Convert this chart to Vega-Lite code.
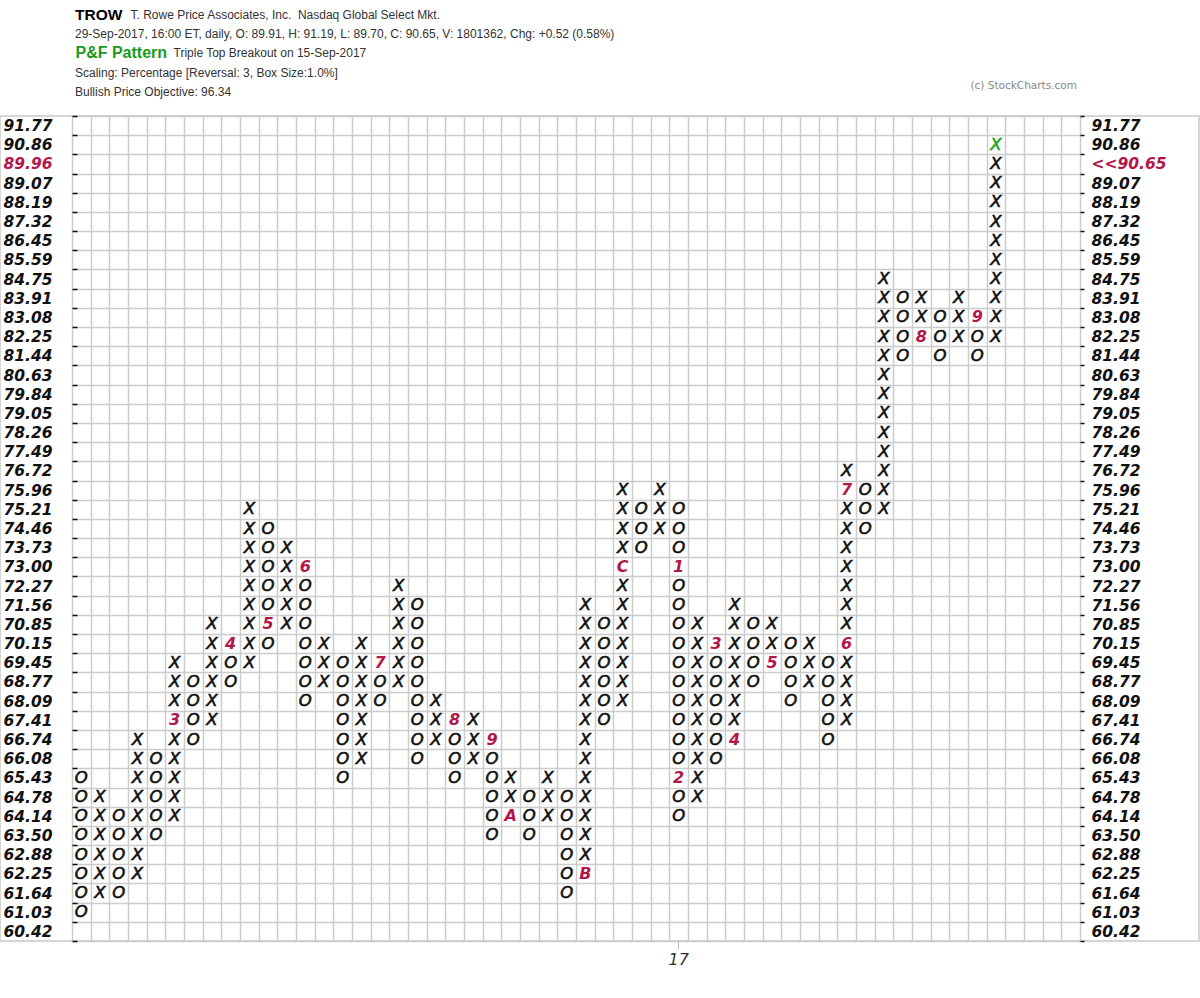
{
  "$schema": "https://vega.github.io/schema/vega-lite/v6.json",
  "width": 1199,
  "height": 825,
  "autosize": {"type": "none"},
  "padding": {"left": 0, "top": 116, "right": 1, "bottom": 57},
  "background": "white",
  "config": {"view": {"stroke": "#c8c8c8", "strokeWidth": 1.5}},
  "title": {
    "text": "TROW",
    "subtitle": ["29-Sep-2017, 16:00 ET, daily, O: 89.91, H: 91.19, L: 89.70, C: 90.65, V: 1801362, Chg: +0.52 (0.58%)", "\u200b", "Scaling: Percentage [Reversal: 3, Box Size:1.0%]", "Bullish Price Objective: 96.34"],
    "anchor": "start", "frame": "group", "dx": 75, "dy": 90, "offset": 0,
    "font": "Liberation Sans", "fontSize": 15.5, "fontWeight": "bold", "color": "#000",
    "subtitleFont": "Liberation Sans", "subtitleFontSize": 12, "subtitleColor": "#333",
    "subtitleLineHeight": 19.4, "subtitlePadding": 5
  },
  "data": {"values": [
    {"c":0,"p":65.43,"s":"O","t":"b"},{"c":0,"p":64.78,"s":"O","t":"b"},{"c":0,"p":64.14,"s":"O","t":"b"},{"c":0,"p":63.50,"s":"O","t":"b"},{"c":0,"p":62.88,"s":"O","t":"b"},{"c":0,"p":62.25,"s":"O","t":"b"},{"c":0,"p":61.64,"s":"O","t":"b"},{"c":0,"p":61.03,"s":"O","t":"b"},
    {"c":1,"p":64.78,"s":"X","t":"b"},{"c":1,"p":64.14,"s":"X","t":"b"},{"c":1,"p":63.50,"s":"X","t":"b"},{"c":1,"p":62.88,"s":"X","t":"b"},{"c":1,"p":62.25,"s":"X","t":"b"},{"c":1,"p":61.64,"s":"X","t":"b"},
    {"c":2,"p":64.14,"s":"O","t":"b"},{"c":2,"p":63.50,"s":"O","t":"b"},{"c":2,"p":62.88,"s":"O","t":"b"},{"c":2,"p":62.25,"s":"O","t":"b"},{"c":2,"p":61.64,"s":"O","t":"b"},
    {"c":3,"p":66.74,"s":"X","t":"b"},{"c":3,"p":66.08,"s":"X","t":"b"},{"c":3,"p":65.43,"s":"X","t":"b"},{"c":3,"p":64.78,"s":"X","t":"b"},{"c":3,"p":64.14,"s":"X","t":"b"},{"c":3,"p":63.50,"s":"X","t":"b"},{"c":3,"p":62.88,"s":"X","t":"b"},{"c":3,"p":62.25,"s":"X","t":"b"},
    {"c":4,"p":66.08,"s":"O","t":"b"},{"c":4,"p":65.43,"s":"O","t":"b"},{"c":4,"p":64.78,"s":"O","t":"b"},{"c":4,"p":64.14,"s":"O","t":"b"},{"c":4,"p":63.50,"s":"O","t":"b"},
    {"c":5,"p":69.45,"s":"X","t":"b"},{"c":5,"p":68.77,"s":"X","t":"b"},{"c":5,"p":68.09,"s":"X","t":"b"},{"c":5,"p":67.41,"s":"3","t":"m"},{"c":5,"p":66.74,"s":"X","t":"b"},{"c":5,"p":66.08,"s":"X","t":"b"},{"c":5,"p":65.43,"s":"X","t":"b"},{"c":5,"p":64.78,"s":"X","t":"b"},{"c":5,"p":64.14,"s":"X","t":"b"},
    {"c":6,"p":68.77,"s":"O","t":"b"},{"c":6,"p":68.09,"s":"O","t":"b"},{"c":6,"p":67.41,"s":"O","t":"b"},{"c":6,"p":66.74,"s":"O","t":"b"},
    {"c":7,"p":70.85,"s":"X","t":"b"},{"c":7,"p":70.15,"s":"X","t":"b"},{"c":7,"p":69.45,"s":"X","t":"b"},{"c":7,"p":68.77,"s":"X","t":"b"},{"c":7,"p":68.09,"s":"X","t":"b"},{"c":7,"p":67.41,"s":"X","t":"b"},
    {"c":8,"p":70.15,"s":"4","t":"m"},{"c":8,"p":69.45,"s":"O","t":"b"},{"c":8,"p":68.77,"s":"O","t":"b"},
    {"c":9,"p":75.21,"s":"X","t":"b"},{"c":9,"p":74.46,"s":"X","t":"b"},{"c":9,"p":73.73,"s":"X","t":"b"},{"c":9,"p":73.00,"s":"X","t":"b"},{"c":9,"p":72.27,"s":"X","t":"b"},{"c":9,"p":71.56,"s":"X","t":"b"},{"c":9,"p":70.85,"s":"X","t":"b"},{"c":9,"p":70.15,"s":"X","t":"b"},{"c":9,"p":69.45,"s":"X","t":"b"},
    {"c":10,"p":74.46,"s":"O","t":"b"},{"c":10,"p":73.73,"s":"O","t":"b"},{"c":10,"p":73.00,"s":"O","t":"b"},{"c":10,"p":72.27,"s":"O","t":"b"},{"c":10,"p":71.56,"s":"O","t":"b"},{"c":10,"p":70.85,"s":"5","t":"m"},{"c":10,"p":70.15,"s":"O","t":"b"},
    {"c":11,"p":73.73,"s":"X","t":"b"},{"c":11,"p":73.00,"s":"X","t":"b"},{"c":11,"p":72.27,"s":"X","t":"b"},{"c":11,"p":71.56,"s":"X","t":"b"},{"c":11,"p":70.85,"s":"X","t":"b"},
    {"c":12,"p":73.00,"s":"6","t":"m"},{"c":12,"p":72.27,"s":"O","t":"b"},{"c":12,"p":71.56,"s":"O","t":"b"},{"c":12,"p":70.85,"s":"O","t":"b"},{"c":12,"p":70.15,"s":"O","t":"b"},{"c":12,"p":69.45,"s":"O","t":"b"},{"c":12,"p":68.77,"s":"O","t":"b"},{"c":12,"p":68.09,"s":"O","t":"b"},
    {"c":13,"p":70.15,"s":"X","t":"b"},{"c":13,"p":69.45,"s":"X","t":"b"},{"c":13,"p":68.77,"s":"X","t":"b"},
    {"c":14,"p":69.45,"s":"O","t":"b"},{"c":14,"p":68.77,"s":"O","t":"b"},{"c":14,"p":68.09,"s":"O","t":"b"},{"c":14,"p":67.41,"s":"O","t":"b"},{"c":14,"p":66.74,"s":"O","t":"b"},{"c":14,"p":66.08,"s":"O","t":"b"},{"c":14,"p":65.43,"s":"O","t":"b"},
    {"c":15,"p":70.15,"s":"X","t":"b"},{"c":15,"p":69.45,"s":"X","t":"b"},{"c":15,"p":68.77,"s":"X","t":"b"},{"c":15,"p":68.09,"s":"X","t":"b"},{"c":15,"p":67.41,"s":"X","t":"b"},{"c":15,"p":66.74,"s":"X","t":"b"},{"c":15,"p":66.08,"s":"X","t":"b"},
    {"c":16,"p":69.45,"s":"7","t":"m"},{"c":16,"p":68.77,"s":"O","t":"b"},{"c":16,"p":68.09,"s":"O","t":"b"},
    {"c":17,"p":72.27,"s":"X","t":"b"},{"c":17,"p":71.56,"s":"X","t":"b"},{"c":17,"p":70.85,"s":"X","t":"b"},{"c":17,"p":70.15,"s":"X","t":"b"},{"c":17,"p":69.45,"s":"X","t":"b"},{"c":17,"p":68.77,"s":"X","t":"b"},
    {"c":18,"p":71.56,"s":"O","t":"b"},{"c":18,"p":70.85,"s":"O","t":"b"},{"c":18,"p":70.15,"s":"O","t":"b"},{"c":18,"p":69.45,"s":"O","t":"b"},{"c":18,"p":68.77,"s":"O","t":"b"},{"c":18,"p":68.09,"s":"O","t":"b"},{"c":18,"p":67.41,"s":"O","t":"b"},{"c":18,"p":66.74,"s":"O","t":"b"},{"c":18,"p":66.08,"s":"O","t":"b"},
    {"c":19,"p":68.09,"s":"X","t":"b"},{"c":19,"p":67.41,"s":"X","t":"b"},{"c":19,"p":66.74,"s":"X","t":"b"},
    {"c":20,"p":67.41,"s":"8","t":"m"},{"c":20,"p":66.74,"s":"O","t":"b"},{"c":20,"p":66.08,"s":"O","t":"b"},{"c":20,"p":65.43,"s":"O","t":"b"},
    {"c":21,"p":67.41,"s":"X","t":"b"},{"c":21,"p":66.74,"s":"X","t":"b"},{"c":21,"p":66.08,"s":"X","t":"b"},
    {"c":22,"p":66.74,"s":"9","t":"m"},{"c":22,"p":66.08,"s":"O","t":"b"},{"c":22,"p":65.43,"s":"O","t":"b"},{"c":22,"p":64.78,"s":"O","t":"b"},{"c":22,"p":64.14,"s":"O","t":"b"},{"c":22,"p":63.50,"s":"O","t":"b"},
    {"c":23,"p":65.43,"s":"X","t":"b"},{"c":23,"p":64.78,"s":"X","t":"b"},{"c":23,"p":64.14,"s":"A","t":"m"},
    {"c":24,"p":64.78,"s":"O","t":"b"},{"c":24,"p":64.14,"s":"O","t":"b"},{"c":24,"p":63.50,"s":"O","t":"b"},
    {"c":25,"p":65.43,"s":"X","t":"b"},{"c":25,"p":64.78,"s":"X","t":"b"},{"c":25,"p":64.14,"s":"X","t":"b"},
    {"c":26,"p":64.78,"s":"O","t":"b"},{"c":26,"p":64.14,"s":"O","t":"b"},{"c":26,"p":63.50,"s":"O","t":"b"},{"c":26,"p":62.88,"s":"O","t":"b"},{"c":26,"p":62.25,"s":"O","t":"b"},{"c":26,"p":61.64,"s":"O","t":"b"},
    {"c":27,"p":71.56,"s":"X","t":"b"},{"c":27,"p":70.85,"s":"X","t":"b"},{"c":27,"p":70.15,"s":"X","t":"b"},{"c":27,"p":69.45,"s":"X","t":"b"},{"c":27,"p":68.77,"s":"X","t":"b"},{"c":27,"p":68.09,"s":"X","t":"b"},{"c":27,"p":67.41,"s":"X","t":"b"},{"c":27,"p":66.74,"s":"X","t":"b"},{"c":27,"p":66.08,"s":"X","t":"b"},{"c":27,"p":65.43,"s":"X","t":"b"},{"c":27,"p":64.78,"s":"X","t":"b"},{"c":27,"p":64.14,"s":"X","t":"b"},{"c":27,"p":63.50,"s":"X","t":"b"},{"c":27,"p":62.88,"s":"X","t":"b"},{"c":27,"p":62.25,"s":"B","t":"m"},
    {"c":28,"p":70.85,"s":"O","t":"b"},{"c":28,"p":70.15,"s":"O","t":"b"},{"c":28,"p":69.45,"s":"O","t":"b"},{"c":28,"p":68.77,"s":"O","t":"b"},{"c":28,"p":68.09,"s":"O","t":"b"},{"c":28,"p":67.41,"s":"O","t":"b"},
    {"c":29,"p":75.96,"s":"X","t":"b"},{"c":29,"p":75.21,"s":"X","t":"b"},{"c":29,"p":74.46,"s":"X","t":"b"},{"c":29,"p":73.73,"s":"X","t":"b"},{"c":29,"p":73.00,"s":"C","t":"m"},{"c":29,"p":72.27,"s":"X","t":"b"},{"c":29,"p":71.56,"s":"X","t":"b"},{"c":29,"p":70.85,"s":"X","t":"b"},{"c":29,"p":70.15,"s":"X","t":"b"},{"c":29,"p":69.45,"s":"X","t":"b"},{"c":29,"p":68.77,"s":"X","t":"b"},{"c":29,"p":68.09,"s":"X","t":"b"},
    {"c":30,"p":75.21,"s":"O","t":"b"},{"c":30,"p":74.46,"s":"O","t":"b"},{"c":30,"p":73.73,"s":"O","t":"b"},
    {"c":31,"p":75.96,"s":"X","t":"b"},{"c":31,"p":75.21,"s":"X","t":"b"},{"c":31,"p":74.46,"s":"X","t":"b"},
    {"c":32,"p":75.21,"s":"O","t":"b"},{"c":32,"p":74.46,"s":"O","t":"b"},{"c":32,"p":73.73,"s":"O","t":"b"},{"c":32,"p":73.00,"s":"1","t":"m"},{"c":32,"p":72.27,"s":"O","t":"b"},{"c":32,"p":71.56,"s":"O","t":"b"},{"c":32,"p":70.85,"s":"O","t":"b"},{"c":32,"p":70.15,"s":"O","t":"b"},{"c":32,"p":69.45,"s":"O","t":"b"},{"c":32,"p":68.77,"s":"O","t":"b"},{"c":32,"p":68.09,"s":"O","t":"b"},{"c":32,"p":67.41,"s":"O","t":"b"},{"c":32,"p":66.74,"s":"O","t":"b"},{"c":32,"p":66.08,"s":"O","t":"b"},{"c":32,"p":65.43,"s":"2","t":"m"},{"c":32,"p":64.78,"s":"O","t":"b"},{"c":32,"p":64.14,"s":"O","t":"b"},
    {"c":33,"p":70.85,"s":"X","t":"b"},{"c":33,"p":70.15,"s":"X","t":"b"},{"c":33,"p":69.45,"s":"X","t":"b"},{"c":33,"p":68.77,"s":"X","t":"b"},{"c":33,"p":68.09,"s":"X","t":"b"},{"c":33,"p":67.41,"s":"X","t":"b"},{"c":33,"p":66.74,"s":"X","t":"b"},{"c":33,"p":66.08,"s":"X","t":"b"},{"c":33,"p":65.43,"s":"X","t":"b"},{"c":33,"p":64.78,"s":"X","t":"b"},
    {"c":34,"p":70.15,"s":"3","t":"m"},{"c":34,"p":69.45,"s":"O","t":"b"},{"c":34,"p":68.77,"s":"O","t":"b"},{"c":34,"p":68.09,"s":"O","t":"b"},{"c":34,"p":67.41,"s":"O","t":"b"},{"c":34,"p":66.74,"s":"O","t":"b"},{"c":34,"p":66.08,"s":"O","t":"b"},
    {"c":35,"p":71.56,"s":"X","t":"b"},{"c":35,"p":70.85,"s":"X","t":"b"},{"c":35,"p":70.15,"s":"X","t":"b"},{"c":35,"p":69.45,"s":"X","t":"b"},{"c":35,"p":68.77,"s":"X","t":"b"},{"c":35,"p":68.09,"s":"X","t":"b"},{"c":35,"p":67.41,"s":"X","t":"b"},{"c":35,"p":66.74,"s":"4","t":"m"},
    {"c":36,"p":70.85,"s":"O","t":"b"},{"c":36,"p":70.15,"s":"O","t":"b"},{"c":36,"p":69.45,"s":"O","t":"b"},{"c":36,"p":68.77,"s":"O","t":"b"},
    {"c":37,"p":70.85,"s":"X","t":"b"},{"c":37,"p":70.15,"s":"X","t":"b"},{"c":37,"p":69.45,"s":"5","t":"m"},
    {"c":38,"p":70.15,"s":"O","t":"b"},{"c":38,"p":69.45,"s":"O","t":"b"},{"c":38,"p":68.77,"s":"O","t":"b"},{"c":38,"p":68.09,"s":"O","t":"b"},
    {"c":39,"p":70.15,"s":"X","t":"b"},{"c":39,"p":69.45,"s":"X","t":"b"},{"c":39,"p":68.77,"s":"X","t":"b"},
    {"c":40,"p":69.45,"s":"O","t":"b"},{"c":40,"p":68.77,"s":"O","t":"b"},{"c":40,"p":68.09,"s":"O","t":"b"},{"c":40,"p":67.41,"s":"O","t":"b"},{"c":40,"p":66.74,"s":"O","t":"b"},
    {"c":41,"p":76.72,"s":"X","t":"b"},{"c":41,"p":75.96,"s":"7","t":"m"},{"c":41,"p":75.21,"s":"X","t":"b"},{"c":41,"p":74.46,"s":"X","t":"b"},{"c":41,"p":73.73,"s":"X","t":"b"},{"c":41,"p":73.00,"s":"X","t":"b"},{"c":41,"p":72.27,"s":"X","t":"b"},{"c":41,"p":71.56,"s":"X","t":"b"},{"c":41,"p":70.85,"s":"X","t":"b"},{"c":41,"p":70.15,"s":"6","t":"m"},{"c":41,"p":69.45,"s":"X","t":"b"},{"c":41,"p":68.77,"s":"X","t":"b"},{"c":41,"p":68.09,"s":"X","t":"b"},{"c":41,"p":67.41,"s":"X","t":"b"},
    {"c":42,"p":75.96,"s":"O","t":"b"},{"c":42,"p":75.21,"s":"O","t":"b"},{"c":42,"p":74.46,"s":"O","t":"b"},
    {"c":43,"p":84.75,"s":"X","t":"b"},{"c":43,"p":83.91,"s":"X","t":"b"},{"c":43,"p":83.08,"s":"X","t":"b"},{"c":43,"p":82.25,"s":"X","t":"b"},{"c":43,"p":81.44,"s":"X","t":"b"},{"c":43,"p":80.63,"s":"X","t":"b"},{"c":43,"p":79.84,"s":"X","t":"b"},{"c":43,"p":79.05,"s":"X","t":"b"},{"c":43,"p":78.26,"s":"X","t":"b"},{"c":43,"p":77.49,"s":"X","t":"b"},{"c":43,"p":76.72,"s":"X","t":"b"},{"c":43,"p":75.96,"s":"X","t":"b"},{"c":43,"p":75.21,"s":"X","t":"b"},
    {"c":44,"p":83.91,"s":"O","t":"b"},{"c":44,"p":83.08,"s":"O","t":"b"},{"c":44,"p":82.25,"s":"O","t":"b"},{"c":44,"p":81.44,"s":"O","t":"b"},
    {"c":45,"p":83.91,"s":"X","t":"b"},{"c":45,"p":83.08,"s":"X","t":"b"},{"c":45,"p":82.25,"s":"8","t":"m"},
    {"c":46,"p":83.08,"s":"O","t":"b"},{"c":46,"p":82.25,"s":"O","t":"b"},{"c":46,"p":81.44,"s":"O","t":"b"},
    {"c":47,"p":83.91,"s":"X","t":"b"},{"c":47,"p":83.08,"s":"X","t":"b"},{"c":47,"p":82.25,"s":"X","t":"b"},
    {"c":48,"p":83.08,"s":"9","t":"m"},{"c":48,"p":82.25,"s":"O","t":"b"},{"c":48,"p":81.44,"s":"O","t":"b"},
    {"c":49,"p":90.86,"s":"X","t":"g"},{"c":49,"p":89.96,"s":"X","t":"b"},{"c":49,"p":89.07,"s":"X","t":"b"},{"c":49,"p":88.19,"s":"X","t":"b"},{"c":49,"p":87.32,"s":"X","t":"b"},{"c":49,"p":86.45,"s":"X","t":"b"},{"c":49,"p":85.59,"s":"X","t":"b"},{"c":49,"p":84.75,"s":"X","t":"b"},{"c":49,"p":83.91,"s":"X","t":"b"},{"c":49,"p":83.08,"s":"X","t":"b"},{"c":49,"p":82.25,"s":"X","t":"b"}
  ]},
  "layer": [
    {
      "transform": [{"filter": "datum.t != 'm'"}],
      "mark": {"type": "text", "font": "DejaVu Sans", "fontSize": 16.5, "fontStyle": "italic", "align": "center", "baseline": "middle", "strokeWidth": 0.6},
      "encoding": {
        "x": {
          "field": "c", "type": "ordinal",
          "scale": {"type": "band", "domain": [0,1,2,3,4,5,6,7,8,9,10,11,12,13,14,15,16,17,18,19,20,21,22,23,24,25,26,27,28,29,30,31,32,33,34,35,36,37,38,39,40,41,42,43,44,45,46,47,48,49,50,51,52,53], "range": [72, 1080], "paddingInner": 0, "paddingOuter": 0, "round": false},
          "axis": {
            "orient": "bottom", "values": [32], "labelExpr": "'17'", "grid": false, "domain": false,
            "ticks": true, "tickSize": 8, "tickColor": "#bbbbbb", "tickWidth": 1,
            "labelFont": "DejaVu Sans", "labelFontSize": 16, "labelFontStyle": "italic", "labelColor": "#333333", "labelPadding": 2, "labelAngle": 0,
            "title": "(c) StockCharts.com", "titleX": 970, "titleY": -856, "titleAlign": "left", "titleBaseline": "middle",
            "titleFont": "DejaVu Sans", "titleFontSize": 10.5, "titleFontWeight": "normal", "titleColor": "#888888"
          }
        },
        "y": {
          "field": "p", "type": "ordinal",
          "scale": {"type": "band", "domain": [91.77,90.86,89.96,89.07,88.19,87.32,86.45,85.59,84.75,83.91,83.08,82.25,81.44,80.63,79.84,79.05,78.26,77.49,76.72,75.96,75.21,74.46,73.73,73.00,72.27,71.56,70.85,70.15,69.45,68.77,68.09,67.41,66.74,66.08,65.43,64.78,64.14,63.50,62.88,62.25,61.64,61.03,60.42], "paddingInner": 0, "paddingOuter": 0, "round": false},
          "axis": {
            "orient": "left", "offset": -72, "grid": true, "gridColor": "#cccccc", "gridWidth": 1.5, "gridOpacity": 1,
            "tickBand": "extent", "ticks": true, "tickSize": -5, "tickColor": "#111111", "tickWidth": 1.5, "domain": false,
            "labelExpr": "isFinite(datum.value) ? format(datum.value, '.2f') : ''", "labelAlign": "left", "labelBaseline": "middle", "labelPadding": 74,
            "labelFont": "DejaVu Sans", "labelFontSize": 15.5, "labelFontWeight": "bold", "labelFontStyle": "italic",
            "labelColor": {"condition": {"test": "datum.value == 89.96", "value": "#b3174a"}, "value": "#111111"},
            "labelOverlap": false, "labelBound": false, "labelFlush": false,
            "title": "P&F Pattern", "titleAngle": 0, "titleX": 3, "titleY": -64, "titleAlign": "left", "titleBaseline": "middle",
            "titleFont": "Liberation Sans", "titleFontSize": 16, "titleFontWeight": "bold", "titleColor": "#1a9a1a"
          }
        },
        "text": {"field": "s"},
        "color": {"field": "t", "type": "nominal", "scale": {"domain": ["b", "g"], "range": ["#111111", "#22a822"]}, "legend": null},
        "stroke": {"field": "t", "type": "nominal", "scale": {"domain": ["b", "g"], "range": ["#111111", "#22a822"]}, "legend": null}
      }
    },
    {
      "transform": [{"filter": "datum.t == 'm'"}],
      "mark": {"type": "text", "font": "DejaVu Sans", "fontSize": 16, "fontStyle": "italic", "fontWeight": "bold", "color": "#b3174a", "align": "center", "baseline": "middle"},
      "encoding": {
        "x": {
          "field": "c", "type": "ordinal",
          "scale": {"type": "band", "domain": [0,1,2,3,4,5,6,7,8,9,10,11,12,13,14,15,16,17,18,19,20,21,22,23,24,25,26,27,28,29,30,31,32,33,34,35,36,37,38,39,40,41,42,43,44,45,46,47,48,49,50,51,52,53], "range": [72, 1080], "paddingInner": 0, "paddingOuter": 0, "round": false},
          "axis": {
            "orient": "top", "grid": true, "gridColor": "#cccccc", "gridWidth": 1.5, "gridOpacity": 1, "tickBand": "extent",
            "ticks": false, "labels": false, "domain": false,
            "title": "T. Rowe Price Associates, Inc.\u00a0 Nasdaq Global Select Mkt.", "titleX": 130, "titleY": -102, "titleAlign": "left", "titleBaseline": "middle",
            "titleFont": "Liberation Sans", "titleFontSize": 12, "titleFontWeight": "normal", "titleColor": "#333333"
          }
        },
        "y": {
          "field": "p", "type": "ordinal",
          "scale": {"type": "band", "domain": [91.77,90.86,89.96,89.07,88.19,87.32,86.45,85.59,84.75,83.91,83.08,82.25,81.44,80.63,79.84,79.05,78.26,77.49,76.72,75.96,75.21,74.46,73.73,73.00,72.27,71.56,70.85,70.15,69.45,68.77,68.09,67.41,66.74,66.08,65.43,64.78,64.14,63.50,62.88,62.25,61.64,61.03,60.42], "paddingInner": 0, "paddingOuter": 0, "round": false},
          "axis": {
            "orient": "right", "offset": -119, "grid": false, "tickBand": "extent", "ticks": true, "tickSize": 4, "tickColor": "#111111", "tickWidth": 1.5, "domain": false,
            "labelExpr": "!isFinite(datum.value) ? '' : datum.value == 89.96 ? '<<90.65' : format(datum.value, '.2f')", "labelAlign": "left", "labelBaseline": "middle", "labelPadding": 7,
            "labelFont": "DejaVu Sans", "labelFontSize": 15.5, "labelFontWeight": "bold", "labelFontStyle": "italic",
            "labelColor": {"condition": {"test": "datum.value == 89.96", "value": "#b3174a"}, "value": "#111111"},
            "labelOverlap": false, "labelBound": false, "labelFlush": false,
            "title": "Triple Top Breakout on 15-Sep-2017", "titleAngle": 0, "titleX": -907, "titleY": -64, "titleAlign": "left", "titleBaseline": "middle",
            "titleFont": "Liberation Sans", "titleFontSize": 12, "titleFontWeight": "normal", "titleColor": "#333333"
          }
        },
        "text": {"field": "s"}
      }
    }
  ],
  "resolve": {"axis": {"x": "independent", "y": "independent"}}
}
